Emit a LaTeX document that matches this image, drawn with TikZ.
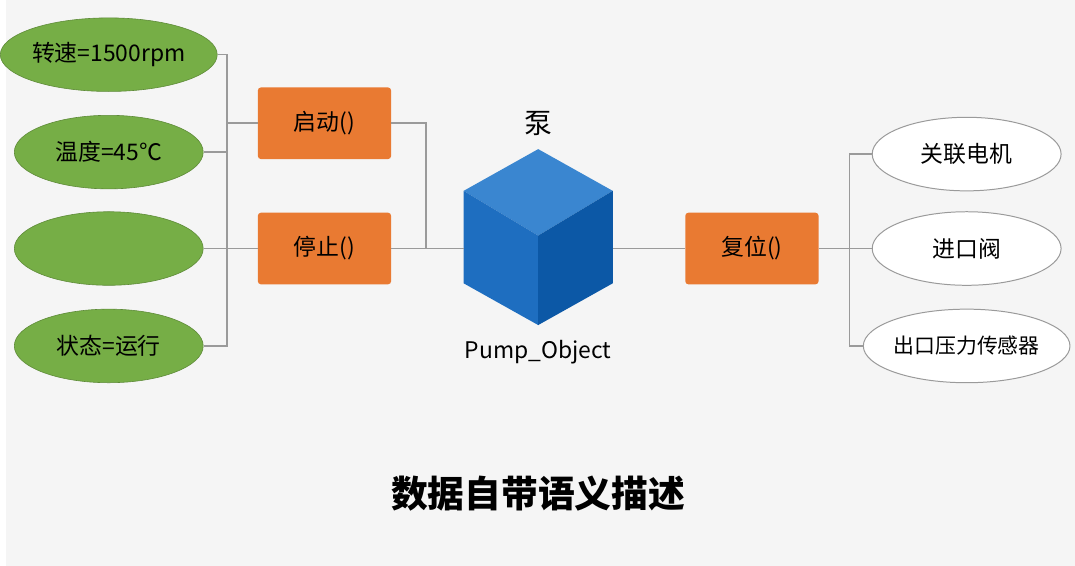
\documentclass[tikz,border=0pt]{standalone}
\usepackage{fontspec}
\setmainfont{Noto Sans CJK SC}
\usetikzlibrary{shapes.geometric}
\definecolor{gr}{HTML}{76AE46}
\definecolor{og}{HTML}{E97A32}
\definecolor{ln}{HTML}{9A9A9A}
\definecolor{ct}{RGB}{58,134,208}
\definecolor{cl}{RGB}{30,110,192}
\definecolor{cr}{RGB}{12,88,166}
\begin{document}
\begin{tikzpicture}[x=1pt,y=-1pt,
 el/.style={ellipse,minimum width=190pt,minimum height=74pt,font=\fontsize{23}{27}\selectfont,inner sep=0pt},
 ge/.style={el,fill=gr,draw=gr!80!black,line width=0.6pt},
 we/.style={el,fill=white,draw=ln,line width=1pt},
 bx/.style={rectangle,rounded corners=3pt,fill=og,minimum width=134pt,minimum height=72pt,font=\fontsize{23}{27}\selectfont},
 ln/.style={draw=ln,line width=1.6pt}]
\fill[white!96!black] (0,0) rectangle (1075,569);
\node[ge] (g1) at (103,55) {转速=1500rpm};
\node[ge] (g2) at (103,153) {温度=45℃};
\node[ge] (g3) at (103,250) {};
\node[ge] (g4) at (103,348) {状态=运行};
\node[bx] (b1) at (320,124) {启动()};
\node[bx] (b2) at (320,250) {停止()};
\node[bx] (b3) at (750,250) {复位()};
\node[we] (w1) at (966,155) {关联电机};
\node[we] (w2) at (966,250) {进口阀};
\node[we,font=\fontsize{21}{25}\selectfont] (w3) at (966,348) {出口压力传感器};
\coordinate (cL) at (460,250);
\coordinate (cR) at (610,250);
\fill[ct] (535,150) -- (610,192) -- (535,237) -- (460,192) -- cycle;
\fill[cl] (460,192) -- (535,237) -- (535,327) -- (460,285) -- cycle;
\fill[cr] (610,192) -- (535,237) -- (535,327) -- (610,285) -- cycle;
\node[font=\fontsize{28}{32}\selectfont] (t1) at (535,124) {泵};
\node[font=\fontsize{23}{27}\selectfont] (t2) at (535,354) {Pump\_Object};
\path[ln] (g1.east) -- (222,55) -- (222,348) -- (g4.east);
\path[ln] (g2.east) -- (222,153);
\path[ln] (g3.east) -- (222,250);
\path[ln] (222,124) -- (b1.west);
\path[ln] (222,250) -- (b2.west);
\path[ln] (b1.east) -- (422,124) -- (422,250) -- (cL);
\path[ln] (b2.east) -- (cL);
\path[ln] (cR) -- (b3.west);
\path[ln] (b3.east) -- (848,250);
\path[ln] (w1.west) -- (848,155) -- (848,348) -- (w3.west);
\path[ln] (w2.west) -- (848,250);
\node[font=\fontsize{37}{42}\selectfont\bfseries] (title) at (535,497) {数据自带语义描述};
\end{tikzpicture}
\end{document}
